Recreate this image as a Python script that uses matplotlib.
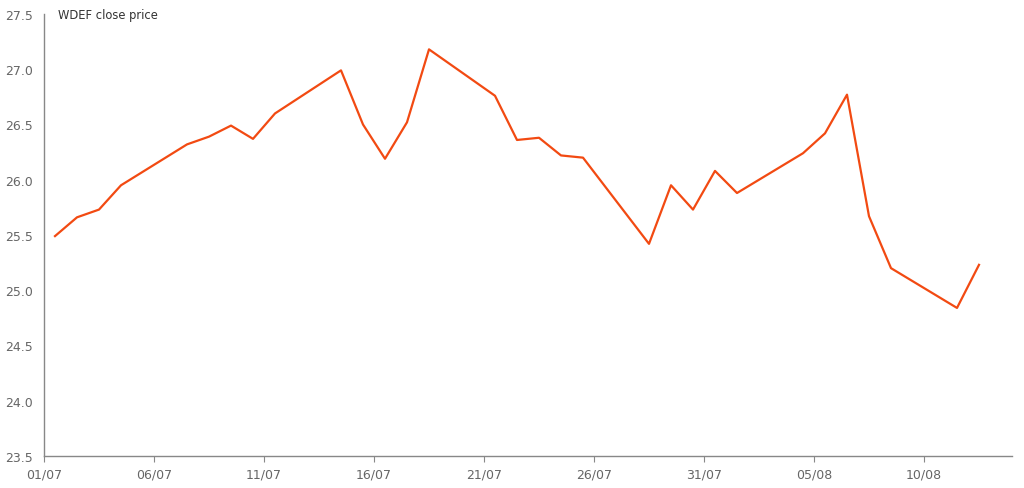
import numpy as np
import pandas as pd
import matplotlib
matplotlib.use("Agg")
import matplotlib.pyplot as plt
import matplotlib.dates as mdates

# 取引日（2025年7月〜8月、平日のみ）
dates = ["2025-07-01", "2025-07-02", "2025-07-03", "2025-07-04",
         "2025-07-07", "2025-07-08", "2025-07-09", "2025-07-10", "2025-07-11",
         "2025-07-14", "2025-07-15", "2025-07-16", "2025-07-17", "2025-07-18",
         "2025-07-21", "2025-07-22", "2025-07-23", "2025-07-24", "2025-07-25",
         "2025-07-28", "2025-07-29", "2025-07-30", "2025-07-31", "2025-08-01",
         "2025-08-04", "2025-08-05", "2025-08-06", "2025-08-07", "2025-08-08",
         "2025-08-11", "2025-08-12"]
close = [25.49, 25.66, 25.73, 25.95,
         26.32, 26.39, 26.49, 26.37, 26.60,
         26.99, 26.50, 26.19, 26.52, 27.18,
         26.76, 26.36, 26.38, 26.22, 26.20,
         25.42, 25.95, 25.73, 26.08, 25.88,
         26.24, 26.42, 26.77, 25.67, 25.20,
         24.84, 25.23]
yticks = [23.5, 24.0, 24.5, 25.0, 25.5, 26.0, 26.5, 27.0, 27.5]

# 点は日の正午に置く
x = pd.to_datetime(dates) + pd.Timedelta(hours=12)

fig = plt.figure(figsize=(10.24, 4.89), dpi=100)
ax = fig.add_axes([44 / 1024, 32 / 489, 968 / 1024, 442 / 489])

ax.plot(x, close, color="#F24A12", lw=1.6)

ax.set_ylim(23.5, 27.5)
ax.set_yticks(yticks)
ax.set_yticklabels([f"{v:.1f}" for v in yticks])
ax.set_xlim(pd.Timestamp("2025-07-01"), pd.Timestamp("2025-08-14"))
# 5日おきの目盛り
ticks = pd.date_range("2025-07-01", "2025-08-13", freq="5D")
ax.set_xticks(ticks)
ax.xaxis.set_major_formatter(mdates.DateFormatter("%d/%m"))

for s in ["top", "right"]:
    ax.spines[s].set_visible(False)
for s in ["left", "bottom"]:
    ax.spines[s].set_color("#888888")
    ax.spines[s].set_linewidth(1.0)

ax.tick_params(axis="y", length=0, pad=8, labelsize=9, labelcolor="#666666")
ax.tick_params(axis="x", length=4, width=0.8, color="#888888", pad=4,
               labelsize=9, labelcolor="#666666")

ax.text(0.014, 0.998, "WDEF close price", transform=ax.transAxes,
        ha="left", va="center", fontsize=8.3, color="#333333")

fig.savefig("out.png", dpi=100)
